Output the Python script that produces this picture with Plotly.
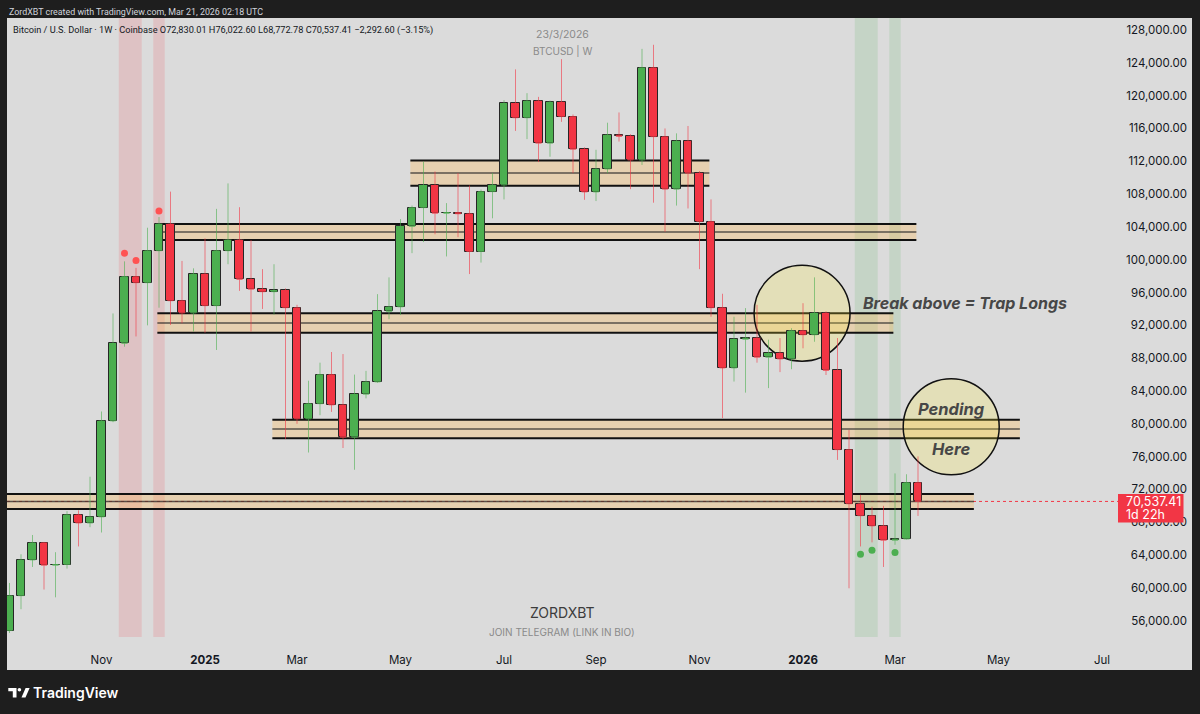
import pandas as pd
import plotly.graph_objects as go

# ---------------- data ----------------
first_week = "2024-09-09"
opens = [54800, 59050, 63400, 65500, 62750, 62850, 68900, 67900, 68650, 80350,
         89800, 97950, 97200, 101100, 104350, 95000, 93500, 98250, 94400, 101100,
         102400, 97600, 96400, 96100, 96250, 94150, 80600, 82450, 86000, 82300,
         78350, 83600, 85100, 93700, 94250, 104050, 106350, 109050, 105650, 105750,
         105600, 101000, 108300, 109100, 119050, 117300, 119350, 114200, 119200, 117450,
         113450, 108250, 111050, 115200, 115050, 112150, 123400, 115000, 108600, 114450,
         110550, 104650, 94150, 86800, 90300, 90450, 88100, 88600, 87900, 91350,
         90850, 93500, 86500, 76850, 70250, 68800, 67550, 65800, 65950, 72830.01]
highs = [60600, 64100, 66450, 65600, 64350, 69350, 69450, 73550, 81500, 93450,
         99800, 99000, 103900, 105200, 108300, 99850, 98950, 102600, 106200, 109300,
         106400, 102400, 98850, 99450, 96500, 94500, 85250, 87450, 88750, 88500,
         86000, 86450, 95800, 97850, 104950, 106600, 111950, 110750, 106900, 110550,
         109050, 108550, 110550, 119450, 123200, 120300, 119850, 119400, 124450, 117700,
         113700, 113400, 116700, 117950, 115300, 125700, 126200, 116000, 115400, 116300,
         110800, 107350, 95850, 93050, 94100, 94500, 90250, 90450, 91650, 94700,
         97850, 93700, 90450, 79250, 71350, 69900, 70000, 73950, 73850, 76022.60]
lows = [54500, 57400, 62550, 59800, 58850, 62350, 65050, 67400, 66750, 80200,
        89400, 90650, 92000, 94150, 92050, 92250, 91250, 91100, 89000, 99450,
        96200, 91250, 94000, 93300, 78150, 80000, 76500, 81050, 81450, 77050,
        74400, 83100, 85000, 92750, 93250, 100800, 102150, 103100, 100400, 102750,
        98250, 99650, 105050, 107350, 115700, 114700, 111900, 112550, 116800, 110550,
        107300, 107150, 110550, 114400, 108600, 111550, 106950, 103400, 106600, 106250,
        98850, 93050, 80700, 85150, 83800, 87450, 84350, 86300, 86650, 89200,
        90000, 85950, 75600, 59950, 65050, 65550, 62550, 65250, 65900, 68772.78]
closes = [59050, 63400, 65500, 62750, 62850, 68900, 67900, 68650, 80350, 89800,
          97950, 97200, 101100, 104350, 95000, 93500, 98250, 94400, 101100, 102400,
          97600, 96400, 96100, 96250, 94150, 80600, 82450, 86000, 82300, 78350,
          83600, 85100, 93700, 94250, 104050, 106350, 109050, 105650, 105750, 105600,
          101000, 108300, 109100, 119050, 117300, 119350, 114200, 119200, 117450, 113450,
          108250, 111050, 115200, 115050, 112150, 123400, 115000, 108600, 114450, 110550,
          104650, 94150, 86800, 90300, 90450, 88100, 88600, 87900, 91350, 90850,
          93500, 86500, 76850, 70250, 68800, 67550, 65800, 65950, 72830.01, 70537.41]
last_price = 70537.41

red_dot_dates = ["2024-11-18", "2024-11-25", "2024-12-09"]
red_dot_prices = [100800, 99900, 105950]
green_dot_dates = ["2026-02-09", "2026-02-16", "2026-03-02"]
green_dot_prices = [64100, 64600, 64300]

red_band_first = ["2024-11-18", "2024-12-09"]
red_band_last = ["2024-11-25", "2024-12-09"]
green_band_first = ["2026-02-09", "2026-03-02"]
green_band_last = ["2026-02-16", "2026-03-02"]

zone_start = ["2024-08-01", "2025-02-16", "2024-12-08", "2024-12-07", "2025-05-11"]
zone_end = ["2026-04-19", "2026-05-17", "2026-03-01", "2026-03-15", "2025-11-09"]
zone_top = [71450, 80480, 93480, 104360, 112080]
zone_bottom = [69600, 78250, 91100, 102410, 109030]

circle_dates = ["2026-01-04 10:00", "2026-04-05 05:00"]
circle_prices = [93480, 79630]

tick_dates = ["2024-11-04", "2025-01-06", "2025-03-03", "2025-05-05", "2025-07-07",
              "2025-09-01", "2025-11-03", "2026-01-05", "2026-03-02", "2026-05-04",
              "2026-07-06"]
tick_text = ["Nov", "<b>2025</b>", "Mar", "May", "Jul", "Sep", "Nov", "<b>2026</b>",
             "Mar", "May", "Jul"]
price_ticks = list(range(56000, 128001, 4000))

dates = pd.date_range(first_week, periods=len(opens), freq="7D")

# ---------------- layout geometry ----------------
W, H = 1200, 714
PL, PR, PT, PB = 7, 1192, 18, 637
ANCHOR = pd.Timestamp("2025-01-06")
PX_ANCHOR, PX_PER_WEEK = 205.0, 11.5
USD_PER_PX = 72000 / 590.7


def px_to_date(px):
    return ANCHOR + pd.Timedelta(weeks=(px - PX_ANCHOR) / PX_PER_WEEK)


def xp(px):
    return (px - PL) / (PR - PL)


def yp(py):
    return (PB - py) / (PB - PT)


x_range = [px_to_date(PL), px_to_date(PR)]
y_range = [128000 - (PB - 30) * USD_PER_PX, 128000 + (30 - PT) * USD_PER_PX]

GREEN, RED = "#4caf50", "#f23645"
GREEN_WICK, RED_WICK = "rgba(76,175,80,0.6)", "rgba(242,54,69,0.6)"
PANEL = "#dbdbdb"
DARK = "#1e1e1e"
FONT = "Inter"

fig = go.Figure()

fig.add_trace(go.Candlestick(
    x=dates, open=opens, high=highs, low=lows, close=closes,
    increasing=dict(line=dict(color=GREEN_WICK, width=1), fillcolor=GREEN_WICK),
    decreasing=dict(line=dict(color=RED_WICK, width=1), fillcolor=RED_WICK),
    whiskerwidth=0, hoverinfo="skip", showlegend=False))

body_base = [min(o, c) for o, c in zip(opens, closes)]
body_len = [abs(c - o) for o, c in zip(opens, closes)]
body_col = [GREEN if c >= o else RED for o, c in zip(opens, closes)]
fig.add_trace(go.Bar(
    x=dates, y=body_len, base=body_base, width=0.72 * 7 * 86400000,
    marker=dict(color=body_col, line=dict(color="#262626", width=1)),
    hoverinfo="skip", showlegend=False))

fig.add_trace(go.Scatter(x=red_dot_dates, y=red_dot_prices, mode="markers",
                         marker=dict(color="#ff5252", size=7), hoverinfo="skip",
                         showlegend=False))
fig.add_trace(go.Scatter(x=green_dot_dates, y=green_dot_prices, mode="markers",
                         marker=dict(color="#4caf50", size=7), hoverinfo="skip",
                         showlegend=False))

shapes = []
# panel background
shapes.append(dict(type="rect", xref="paper", yref="paper", x0=xp(7), x1=xp(1192),
                   y0=yp(670), y1=yp(18), fillcolor=PANEL, line=dict(width=0),
                   layer="below"))
half = pd.Timedelta(days=3.5)
for a, b in zip(red_band_first, red_band_last):
    shapes.append(dict(type="rect", xref="x", yref="y domain",
                       x0=pd.Timestamp(a) - half, x1=pd.Timestamp(b) + half, y0=0, y1=1,
                       fillcolor="rgba(242,54,69,0.15)", line=dict(width=0), layer="below"))
for a, b in zip(green_band_first, green_band_last):
    shapes.append(dict(type="rect", xref="x", yref="y domain",
                       x0=pd.Timestamp(a) - half, x1=pd.Timestamp(b) + half, y0=0, y1=1,
                       fillcolor="rgba(76,175,80,0.15)", line=dict(width=0), layer="below"))
for s, e, t, b in zip(zone_start, zone_end, zone_top, zone_bottom):
    shapes.append(dict(type="rect", xref="x", yref="y", x0=s, x1=e, y0=b, y1=t,
                       fillcolor="rgba(255,183,77,0.3)", line=dict(width=0), layer="below"))
    for yv, col, wd in ((t, "#111111", 2), (b, "#111111", 2),
                        ((t + b) / 2, "rgba(40,40,40,0.75)", 1.5)):
        shapes.append(dict(type="line", xref="x", yref="y", x0=s, x1=e, y0=yv, y1=yv,
                           line=dict(color=col, width=wd), layer="below"))
for d, p in zip(circle_dates, circle_prices):
    shapes.append(dict(type="circle", xref="x", yref="y", xsizemode="pixel",
                       ysizemode="pixel", xanchor=d, yanchor=p, x0=-48, x1=48,
                       y0=-48, y1=48, fillcolor="rgba(255,235,59,0.22)",
                       line=dict(color="#111111", width=1.5), layer="below"))
# last price line
shapes.append(dict(type="line", xref="x domain", yref="y", x0=0, x1=xp(1118),
                   y0=last_price, y1=last_price,
                   line=dict(color=RED, width=1, dash="dot"), layer="below"))
# price box
shapes.append(dict(type="rect", xref="paper", yref="paper", x0=xp(1118), x1=xp(1183.5),
                   y0=yp(522.5), y1=yp(494), fillcolor=RED, line=dict(width=0),
                   layer="above"))
# TradingView logo


def path(points):
    return "M " + " L ".join(f"{xp(a):.5f},{yp(b):.5f}" for a, b in points) + " Z"


shapes.append(dict(type="path", xref="paper", yref="paper",
                   path=path([(8.3, 688), (16.5, 688), (16.5, 697.5), (12.8, 697.5),
                              (12.8, 691.3), (8.3, 691.3)]),
                   fillcolor="#ffffff", line=dict(width=0), layer="above"))
shapes.append(dict(type="circle", xref="paper", yref="paper", x0=xp(17.6), x1=xp(21.2),
                   y0=yp(691.6), y1=yp(688), fillcolor="#ffffff", line=dict(width=0),
                   layer="above"))
shapes.append(dict(type="path", xref="paper", yref="paper",
                   path=path([(21.5, 697.5), (25.6, 688), (29.6, 688), (25.5, 697.5)]),
                   fillcolor="#ffffff", line=dict(width=0), layer="above"))

ann = []


def ptext(text, px, py, size, color, anchor="left", weight=None, family=FONT):
    f = dict(family=family, size=size, color=color)
    if weight:
        f["weight"] = weight
    ann.append(dict(text=text, xref="paper", yref="paper", x=xp(px), y=yp(py),
                    xanchor=anchor, yanchor="middle", showarrow=False, font=f))


ptext("ZordXBT created with TradingView.com, Mar 21, 2026 02:18 UTC", 7, 11.5, 8.9,
      "#d1d4dc", family="Roboto")
ptext("Bitcoin / U.S. Dollar · 1W · Coinbase O72,830.01 H76,022.60 L68,772.78 "
      "C70,537.41 −2,292.60 (−3.15%)", 11, 30, 9.2, "#131722", family="Roboto")
ptext("23/3/2026", 562, 34.5, 10.5, "#8a8a8a", "center")
ptext("BTCUSD | W", 562, 51, 10, "#8a8a8a", "center")
ptext("ZORDXBT", 562, 612, 14, "#3c3c3c", "center")
ptext("JOIN TELEGRAM (LINK IN BIO)", 562, 632, 10, "#8a8a8a", "center")
ptext("70,537.41", 1124, 501.5, 12.5, "#ffffff")
ptext("1d 22h", 1124, 514, 12.5, "#ffffff")
ptext("TradingView", 31, 692.5, 14, "#ffffff", weight=600)

ann.append(dict(text="<b><i>Break above = Trap Longs</i></b>", x="2026-02-09", y=94775,
                xref="x", yref="y", xanchor="left", yanchor="middle", showarrow=False,
                font=dict(family=FONT, size=16, color="#474747")))
ann.append(dict(text="<b><i>Pending</i></b>", x=circle_dates[1], y=81790, xref="x",
                yref="y", xanchor="center", yanchor="middle", showarrow=False,
                font=dict(family=FONT, size=16.5, color="#474747")))
ann.append(dict(text="<b><i>Here</i></b>", x=circle_dates[1], y=76910, xref="x",
                yref="y", xanchor="center", yanchor="middle", showarrow=False,
                font=dict(family=FONT, size=16.5, color="#474747")))

fig.update_layout(
    width=W, height=H, margin=dict(l=PL, r=W - PR, t=PT, b=H - PB),
    paper_bgcolor=DARK, plot_bgcolor=PANEL, showlegend=False, hovermode=False,
    shapes=shapes, annotations=ann, bargap=0,
    xaxis=dict(type="date", range=x_range, rangeslider=dict(visible=False),
               tickvals=tick_dates, ticktext=tick_text, ticks="", showgrid=False,
               zeroline=False, showline=False, ticklabelstandoff=14,
               tickfont=dict(family=FONT, size=11.5, color="#131722")),
    yaxis=dict(range=y_range, side="right", tickvals=price_ticks, tickformat=",.2f",
               ticks="", showgrid=False, zeroline=False, showline=False,
               ticklabelposition="inside", ticklabelstandoff=2,
               tickfont=dict(family=FONT, size=11.5, color="#131722")),
)

fig.write_html("out.html", config={"displayModeBar": False},
               post_script="document.body.style.margin='0px';")
